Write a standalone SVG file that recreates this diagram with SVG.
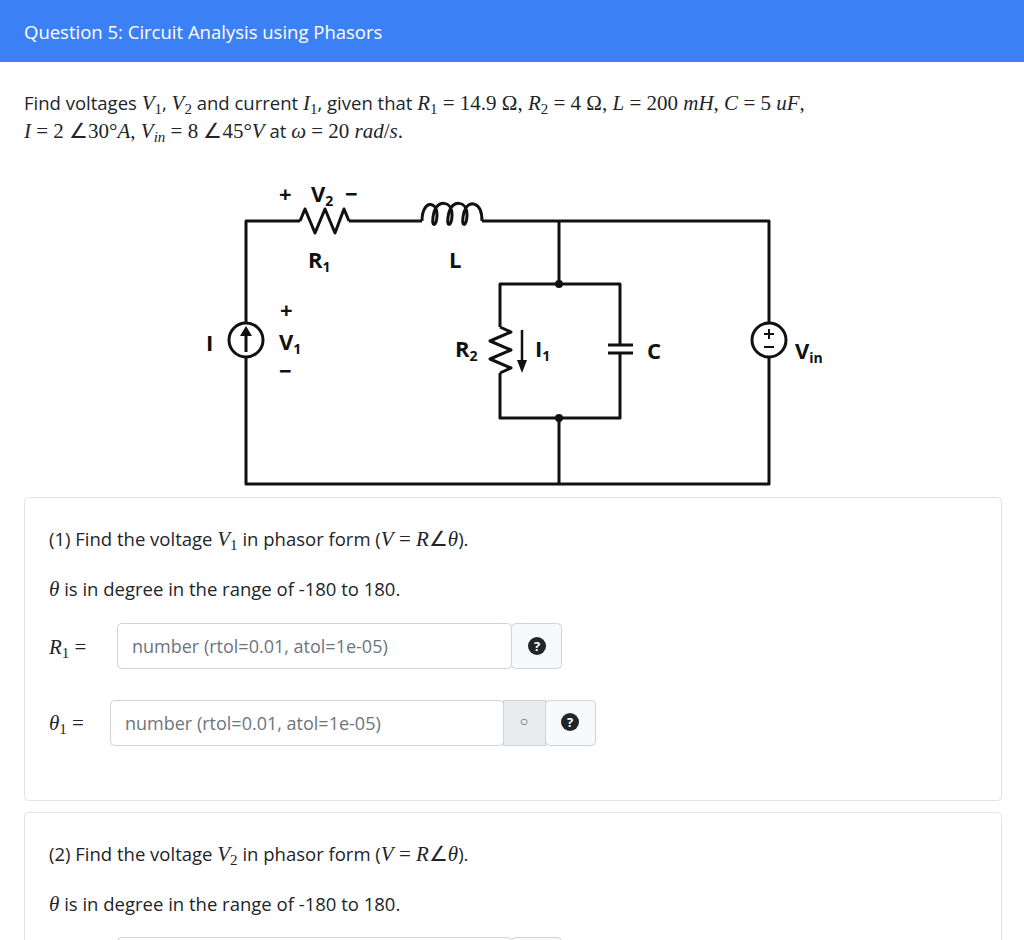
<svg xmlns="http://www.w3.org/2000/svg" width="1024" height="940" viewBox="0 0 1024 940">
<style>
.t{font-family:"Open Sans","Noto Sans",sans-serif;font-size:18.5px;fill:#212529}
.m{font-family:"Liberation Serif",serif;font-style:italic;font-size:21px;fill:#212529}
.mn{font-family:"Liberation Serif",serif;font-style:normal}
.s{font-size:15px}
.w{fill:none;stroke:#111;stroke-width:3;stroke-linejoin:round}
.lb{font-family:"Open Sans","Noto Sans",sans-serif;font-weight:bold;font-size:22px;fill:#111}
.lbs{font-size:14px}
.ph{font-family:"Open Sans","Noto Sans",sans-serif;font-size:18px;fill:#6c757d}
.card{fill:#fff;stroke:#dfe2e6;stroke-width:1}
.inp{fill:#fff;stroke:#ced4da;stroke-width:1}
.add{fill:#f8f9fa;stroke:#ced4da;stroke-width:1}
</style>
<rect width="1024" height="940" fill="#fff"/>
<g id="header">
<rect x="0" y="0" width="1024" height="62" fill="#3c80f6"/>
<text x="24" y="39" font-family="'Open Sans','Noto Sans',sans-serif" font-size="18.5" fill="#fff">Question 5: Circuit Analysis using Phasors</text>
</g>
<g id="problem">
<text x="24" y="110" class="t">Find voltages <tspan class="m">V</tspan><tspan class="m mn s" dy="4">1</tspan><tspan dy="-4">, </tspan><tspan class="m">V</tspan><tspan class="m mn s" dy="4">2</tspan><tspan dy="-4"> and current </tspan><tspan class="m">I</tspan><tspan class="m mn s" dy="4">1</tspan><tspan dy="-4">, given that </tspan><tspan class="m">R</tspan><tspan class="m mn s" dy="4">1</tspan><tspan class="m mn" dy="-4"> = 14.9 Ω, </tspan><tspan class="m">R</tspan><tspan class="m mn s" dy="4">2</tspan><tspan class="m mn" dy="-4"> = 4 Ω, </tspan><tspan class="m">L</tspan><tspan class="m mn"> = 200 </tspan><tspan class="m">mH</tspan><tspan class="m mn">, </tspan><tspan class="m">C</tspan><tspan class="m mn"> = 5 </tspan><tspan class="m">uF</tspan><tspan class="m mn">,</tspan></text>
<text x="24" y="138" class="t"><tspan class="m">I</tspan><tspan class="m mn"> = 2 ∠30°</tspan><tspan class="m">A</tspan><tspan class="m mn">, </tspan><tspan class="m">V</tspan><tspan class="m s" dy="4">in</tspan><tspan class="m mn" dy="-4"> = 8 ∠45°</tspan><tspan class="m">V</tspan><tspan> at </tspan><tspan class="m">ω</tspan><tspan class="m mn"> = 20 </tspan><tspan class="m">rad</tspan><tspan class="m mn">/</tspan><tspan class="m">s</tspan><tspan class="m mn">.</tspan></text>
</g>
<g id="connectors">
<path class="w" d="M246 323V221H300M349 221H422M482 221H769V323M769 357V484H246V357"/>
<path class="w" d="M559 221V284M500 327V284H620V345M620 353V418H500V373M559 418V484"/>
</g>
<g id="R1"><path class="w" d="M300 221L305 209L315 233L325 209L335 233L344 209L349 221"/></g>
<g id="L"><path class="w" d="M422 221C422 200 437 200 437 215C437 228 430 228 434 212C437 200 452 200 452 215C452 228 445 228 449 212C452 200 467 200 467 215C467 228 460 228 464 212C467 200 482 200 482 221"/></g>
<g id="R2"><path class="w" d="M500 327L511 332L490 341L511 350L490 359L511 368L500 373"/></g>
<g id="C"><path class="w" d="M608 345H633M608 353H633"/></g>
<g id="dots"><circle cx="559" cy="284" r="4" fill="#111"/><circle cx="559" cy="418" r="4" fill="#111"/></g>
<g id="Isrc"><circle class="w" cx="246" cy="340" r="17"/><path class="w" d="M246 352V333"/><path d="M240 336L246 326L252 336Z" fill="#111"/></g>
<g id="Vin"><circle class="w" cx="769" cy="340" r="17"/><path d="M764 334H774M769 329V339M764 347H774" stroke="#111" stroke-width="2"/></g>
<g id="I1arrow"><path d="M522 330V362" stroke="#111" stroke-width="2.5"/><path d="M517 360L522 373L527 360Z" fill="#111"/></g>
<g id="labels">
<text x="279" y="202" class="lb">+</text>
<text x="311" y="202" class="lb">V<tspan class="lbs" dy="4">2</tspan></text>
<text x="345" y="202" class="lb">−</text>
<text x="308" y="268" class="lb">R<tspan class="lbs" dy="4">1</tspan></text>
<text x="449" y="268" class="lb">L</text>
<text x="280" y="318" class="lb">+</text>
<text x="279" y="350" class="lb">V<tspan class="lbs" dy="4">1</tspan></text>
<text x="279" y="379" class="lb">−</text>
<text x="206" y="351" class="lb">I</text>
<text x="455" y="357" class="lb">R<tspan class="lbs" dy="4">2</tspan></text>
<text x="535" y="357" class="lb">I<tspan class="lbs" dy="4">1</tspan></text>
<text x="647" y="359" class="lb">C</text>
<text x="795" y="359" class="lb">V<tspan class="lbs" dy="4">in</tspan></text>
</g>
<g id="card1">
<rect class="card" x="24.5" y="497.5" width="977" height="303" rx="4"/>
<text x="49" y="546" class="t">(1) Find the voltage <tspan class="m">V</tspan><tspan class="m mn s" dy="4">1</tspan><tspan dy="-4"> in phasor form (</tspan><tspan class="m">V</tspan><tspan class="m mn"> = </tspan><tspan class="m">R</tspan><tspan class="m mn">∠</tspan><tspan class="m">θ</tspan><tspan>).</tspan></text>
<text x="49" y="596" class="t"><tspan class="m">θ</tspan> is in degree in the range of -180 to 180.</text>
<text x="49" y="654" class="m">R<tspan class="mn s" dy="4">1</tspan><tspan class="mn" dy="-4"> =</tspan></text>
<rect class="inp" x="117.5" y="623.5" width="394" height="45" rx="4"/>
<rect class="add" x="511.5" y="623.5" width="50" height="45" rx="4"/>
<text x="132" y="653" class="ph">number (rtol=0.01, atol=1e-05)</text>
<circle cx="537" cy="646" r="9" fill="#212529"/>
<text x="537" y="651" text-anchor="middle" font-family="'Open Sans',sans-serif" font-weight="bold" font-size="13" fill="#fff">?</text>
<text x="49" y="730" class="m">θ<tspan class="mn s" dy="4">1</tspan><tspan class="mn" dy="-4"> =</tspan></text>
<rect class="inp" x="110.5" y="700.5" width="393" height="45" rx="4"/>
<rect x="503.5" y="700.5" width="42" height="45" fill="#e9ecef" stroke="#ced4da"/>
<rect class="add" x="545.5" y="700.5" width="50" height="45" rx="4"/>
<text x="125" y="730" class="ph">number (rtol=0.01, atol=1e-05)</text>
<text x="524" y="726" text-anchor="middle" font-family="'Open Sans',sans-serif" font-size="14" fill="#495057">○</text>
<circle cx="570" cy="722" r="9" fill="#212529"/>
<text x="570" y="727" text-anchor="middle" font-family="'Open Sans',sans-serif" font-weight="bold" font-size="13" fill="#fff">?</text>
</g>
<g id="card2">
<rect class="card" x="24.5" y="812.5" width="977" height="140" rx="4"/>
<text x="49" y="861" class="t">(2) Find the voltage <tspan class="m">V</tspan><tspan class="m mn s" dy="4">2</tspan><tspan dy="-4"> in phasor form (</tspan><tspan class="m">V</tspan><tspan class="m mn"> = </tspan><tspan class="m">R</tspan><tspan class="m mn">∠</tspan><tspan class="m">θ</tspan><tspan>).</tspan></text>
<text x="49" y="911" class="t"><tspan class="m">θ</tspan> is in degree in the range of -180 to 180.</text>
<rect class="inp" x="117.5" y="937.5" width="394" height="45" rx="4"/>
<rect class="add" x="511.5" y="937.5" width="50" height="45" rx="4"/>
</g>
</svg>
